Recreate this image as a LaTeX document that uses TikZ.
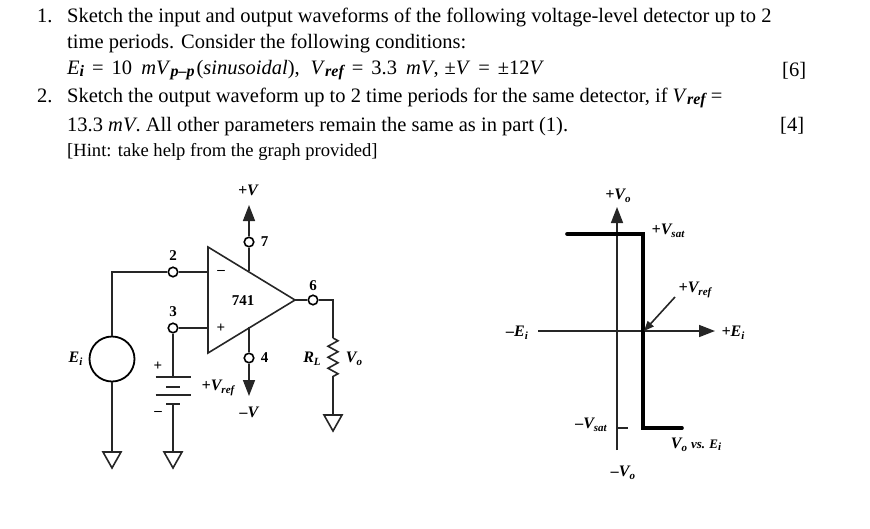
\documentclass[tikz,border=0pt]{standalone}
\usepackage{fontspec}
\setmainfont{Liberation Serif}
\usetikzlibrary{positioning, arrows.meta, decorations.pathmorphing}
\newcommand{\lowtext}[1]{\raisebox{-0.35ex}{\fontsize{11}{11}\selectfont #1}}
\newcommand{\mathsub}[1]{\raisebox{-0.3ex}{\fontsize{16}{16}\selectfont\bfseries\itshape #1}}
\newcommand{\gapeq}{\hspace{8pt}=\hspace{8pt}}

\begin{document}
\begin{tikzpicture}[
    x = 1pt, y = -1pt,
    every node/.style = {inner sep=0pt},
    qline/.style = {anchor=base west, font=\fontsize{20.5}{24}\selectfont},
    hintline/.style = {anchor=base west, font=\fontsize{18.6}{22}\selectfont},
    lab/.style = {font=\fontsize{16}{18}\selectfont\bfseries\itshape},
    pinnum/.style = {font=\fontsize{15}{17}\selectfont\bfseries},
    wire/.style = {line width=1.6pt, black!85},
    pinpt/.style = {draw, circle, line width=1.6pt, fill=white, minimum size=9.5pt},
    plate/.style = {line width=2pt, black!85},
    heavy/.style = {line width=3.6pt, line cap=round, line join=miter},
    tipwire/.style = {wire, -{Triangle[length=16pt, width=12pt]}}
  ]
    \useasboundingbox (0,0) rectangle (870,528);

    % question text
    \node[qline] (num1) at (37,22) {1.};
    \node[qline] (line1) at (67,22) {Sketch the input and output waveforms of the following voltage-level detector up to 2};
    \node[qline] (line2) at (67,48) {time periods. Consider the following conditions:};
    \node[qline] (line3) at (67,74) {\textit{E}\mathsub{i}\gapeq 10\hspace{4pt} \textit{mV}\mathsub{p--p}\hspace{2pt}(\textit{sinusoidal}),\hspace{11pt}\textit{V}\mathsub{ref}\gapeq 3.3\hspace{4pt} \textit{mV},\hspace{6pt}±\textit{V}\gapeq ±12\textit{V}};
    \node[qline] (mark6) at (782,76) {[6]};
    \node[qline] (num2) at (37,102) {2.};
    \node[qline] (line4) at (67,102) {Sketch the output waveform up to 2 time periods for the same detector, if \textit{V}\mathsub{ref} =};
    \node[qline] (line5) at (67,131) {13.3 \textit{mV}. All other parameters remain the same as in part (1).};
    \node[qline] (mark4) at (780,131) {[4]};
    \node[hintline] (hint) at (67,156) {[Hint: take help from the graph provided]};

    % op amp
    \coordinate (amptop) at (208,247);
    \coordinate (ampbot) at (208,353);
    \coordinate (ampout) at (295,300);
    \coordinate (ampinn) at (208,272);
    \coordinate (ampinp) at (208,328);
    \coordinate (ampvp) at (249,271);
    \coordinate (ampvn) at (249,327);
    \draw[wire, line join=miter] (amptop) -- (ampout) -- (ampbot) -- cycle;
    \node[pinnum] (name741) at (243,301) {741};
    \node[pinnum] (signn) at (221,272) {--};
    \node[pinnum] (signp) at (221,328) {+};

    % pins
    \node[pinpt] (pin2) at (173,272) {};
    \node[pinpt] (pin3) at (173,328) {};
    \node[pinpt] (pin7) at (249,242) {};
    \node[pinpt] (pin4) at (249,358) {};
    \node[pinpt] (pin6) at (313,300) {};
    \node[pinnum, above=6pt of pin2] (num2pin) {2};
    \node[pinnum, above=6pt of pin3] (num3pin) {3};
    \node[pinnum, right=6pt of pin7] (num7pin) {7};
    \node[pinnum, right=6pt of pin4] (num4pin) {4};
    \node[pinnum, above=4pt of pin6] (num6pin) {6};

    % source, battery, load
    \node[draw, circle, line width=1.8pt, minimum size=45pt] (src) at (112,359) {};
    \node[lab, left=6pt of src] (srclab) {E\lowtext{i}};
    \coordinate (corner2) at (112,272);
    \coordinate (batt1) at (173,377);
    \coordinate (batt4) at (173,404);
    \coordinate (corner6) at (333,300);
    \coordinate (rtop) at (333,338);
    \coordinate (rbot) at (333,379);

    % grounds
    \foreach \gname/\gx/\gy in {gndsrc/112/452, gndbat/173/452, gndload/333/415} {
      \coordinate (\gname) at (\gx,\gy);
      \draw[wire, line join=miter] (\gname) ++(-9,0) -- ++(18,0) -- ++(-9,16) -- cycle;
    }

    \draw[wire] (src) -- (corner2) -- (pin2) -- (ampinn);
    \draw[wire] (src) -- (gndsrc);
    \draw[wire] (pin3) -- (ampinp);
    \draw[wire] (pin3) -- (batt1);
    \draw[wire] (batt4) -- (gndbat);
    \draw[wire] (ampout) -- (pin6) -- (corner6) -- (rtop);
    \draw[wire, decorate, decoration={zigzag, segment length=11pt, amplitude=5pt}] (rtop) -- (rbot);
    \draw[wire] (rbot) -- (gndload);
    \draw[wire] (ampvp) -- (pin7);
    \draw[wire] (ampvn) -- (pin4);
    \coordinate (vptip) at (249,205);
    \coordinate (vntip) at (249,396);
    \draw[tipwire] (pin7) -- (vptip);
    \draw[tipwire] (pin4) -- (vntip);

    % battery plates
    \foreach \py/\half in {377/17.5, 387/7, 395/17.5, 404/7} {
      \draw[plate] (173-\half,\py) -- (173+\half,\py);
    }

    \node[lab] (vplab) at (248,190) {+V};
    \node[lab] (vnlab) at (249,412) {--V};
    \node[pinnum] (battp) at (158,366) {+};
    \node[pinnum] (battn) at (158,413) {--};
    \node[lab] (vreflab) at (218,388) {+V\lowtext{ref}};
    \node[lab] (rllab) at (312,359) {R\lowtext{L}};
    \node[lab] (volab) at (354,359) {V\lowtext{o}};

    % transfer graph
    \coordinate (ytop) at (617,207);
    \coordinate (ybot) at (617,450);
    \coordinate (xleft) at (538,331);
    \coordinate (xright) at (715,331);
    \coordinate (satstart) at (567,234);
    \coordinate (satup) at (643,234);
    \coordinate (satdown) at (643,428);
    \coordinate (satend) at (682,428);
    \coordinate (tickl) at (617,428);
    \coordinate (tickr) at (628,428);
    \coordinate (reftail) at (675,297);
    \coordinate (refhead) at (644,331);
    \draw[tipwire] (ybot) -- (ytop);
    \draw[tipwire] (xleft) -- (xright);
    \draw[heavy] (satstart) -- (satup) -- (satdown) -- (satend);
    \draw[wire] (tickl) -- (tickr);
    \draw[wire, -{Triangle[length=10pt, width=8pt]}] (reftail) -- (refhead);

    \node[lab] (vopos) at (618,196) {+V\lowtext{o}};
    \node[lab] (satpos) at (668,231) {+V\lowtext{sat}};
    \node[lab] (refpos) at (695,290) {+V\lowtext{ref}};
    \node[lab] (einneg) at (517,333) {--E\lowtext{i}};
    \node[lab] (einpos) at (733,333) {+E\lowtext{i}};
    \node[lab] (satneg) at (591,425) {--V\lowtext{sat}};
    \node[lab] (vscap) at (696,445) {V\lowtext{o} \fontsize{13}{15}\selectfont vs. E\lowtext{i}};
    \node[lab] (voneg) at (623,473) {--V\lowtext{o}};
\end{tikzpicture}
\end{document}
